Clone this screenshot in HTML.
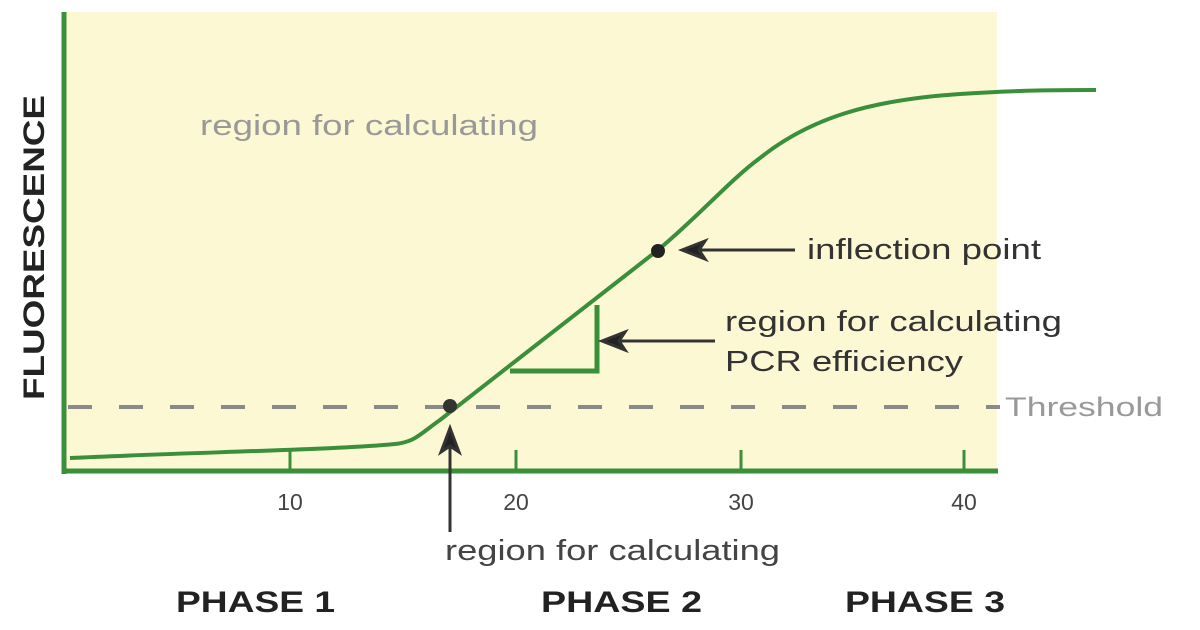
<!DOCTYPE html>
<html><head><style>
body{margin:0;background:#fff;}
svg{display:block;font-family:"Liberation Sans",sans-serif;}
</style></head><body>
<svg width="1200" height="630" viewBox="0 0 1200 630">
<rect x="66" y="12" width="931" height="458" fill="#fdf8d4"/>
<line x1="64" y1="12" x2="64" y2="474" stroke="#3a8f3a" stroke-width="5"/>
<line x1="62" y1="471" x2="998" y2="471" stroke="#3a8f3a" stroke-width="5"/>
<g stroke="#3a8f3a" stroke-width="3">
<line x1="290" y1="471" x2="290" y2="450"/>
<line x1="516" y1="471" x2="516" y2="450"/>
<line x1="741" y1="471" x2="741" y2="450"/>
<line x1="964" y1="471" x2="964" y2="450"/>
</g>
<line x1="68" y1="407" x2="1000" y2="407" stroke="#8a8a8a" stroke-width="4" stroke-dasharray="24,27"/>
<path d="M70,458 C200,452 330,450 395,444 C415,442 420,434 440,420 L658,250 C700,215 730,180 760,158 C810,118 870,100 960,94 C1020,90 1060,90 1096,90" fill="none" stroke="#3a8f3a" stroke-width="4"/>
<path d="M510,371 L597,371 L597,305" fill="none" stroke="#3a8f3a" stroke-width="5"/>
<circle cx="450" cy="406" r="7" fill="#333"/>
<circle cx="658" cy="251" r="7" fill="#222"/>
<g stroke="#333" stroke-width="3" fill="#222">
<line x1="450" y1="440" x2="450" y2="532"/>
<path d="M450,428 L441,452 L450,446 L459,452 Z"/>
<line x1="695" y1="250" x2="795" y2="250"/>
<path d="M682,250 L705,241 L699,250 L705,259 Z"/>
<line x1="615" y1="341" x2="715" y2="341"/>
<path d="M602,341 L625,332 L619,341 L625,350 Z"/>
</g>
<text x="200" y="135" font-size="29" fill="#999" textLength="338" lengthAdjust="spacingAndGlyphs">region for calculating</text>
<text x="807" y="259" font-size="29" fill="#333" textLength="234" lengthAdjust="spacingAndGlyphs">inflection point</text>
<text x="725" y="331" font-size="29" fill="#333" textLength="337" lengthAdjust="spacingAndGlyphs">region for calculating</text>
<text x="725" y="371" font-size="29" fill="#333" textLength="238" lengthAdjust="spacingAndGlyphs">PCR efficiency</text>
<text x="1005" y="416" font-size="27" fill="#999" textLength="158" lengthAdjust="spacingAndGlyphs">Threshold</text>
<text x="445" y="560" font-size="29" fill="#444" textLength="335" lengthAdjust="spacingAndGlyphs">region for calculating</text>
<g font-size="23" fill="#444" text-anchor="middle">
<text x="290" y="510">10</text><text x="516" y="510">20</text><text x="741" y="510">30</text><text x="964" y="510">40</text>
</g>
<g font-size="30" font-weight="bold" fill="#222">
<text x="176" y="612" textLength="159" lengthAdjust="spacingAndGlyphs">PHASE 1</text>
<text x="541" y="612" textLength="161" lengthAdjust="spacingAndGlyphs">PHASE 2</text>
<text x="845" y="612" textLength="160" lengthAdjust="spacingAndGlyphs">PHASE 3</text>
</g>
<text transform="translate(44,400) rotate(-90)" font-size="30" font-weight="bold" fill="#222" textLength="305" lengthAdjust="spacingAndGlyphs">FLUORESCENCE</text>
</svg>
</body></html>
